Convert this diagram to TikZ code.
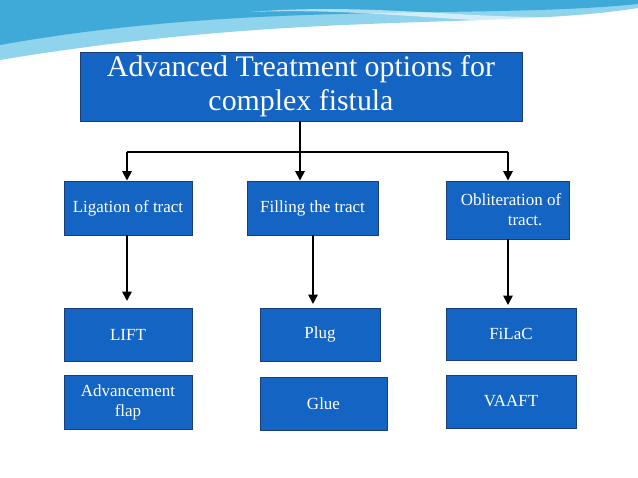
\documentclass[tikz,border=0pt]{standalone}
\usepackage{fontspec}
\setmainfont{Liberation Serif}
\usetikzlibrary{arrows.meta}
\definecolor{bx}{HTML}{1464C4}
\definecolor{bd}{HTML}{1A3E78}
\definecolor{w1}{HTML}{8FD3EC}
\definecolor{w2}{HTML}{3FA9D8}
\begin{document}
\begin{tikzpicture}[x=0.03cm,y=-0.03cm,
 box/.style={draw=bd,line width=0.8pt,fill=bx,text=white,align=center,inner sep=0pt,font=\fontsize{14.5}{17}\selectfont},
 arr/.style={line width=1.5pt,-{Triangle[length=8pt,width=8pt]}}]
\useasboundingbox (0,0) rectangle (638,478);
\fill[white] (0,0) rectangle (638,478);
% top waves
\fill[w1] (0,0) -- (638,0) -- (638,8) .. controls (500,30) and (300,10) .. (0,60) -- cycle;
\fill[w2] (0,0) -- (638,0) -- (638,4) .. controls (480,20) and (250,0) .. (0,45) -- cycle;
\fill[white,opacity=0.6] (250,12) .. controls (400,0) and (520,30) .. (638,10) -- (638,14) .. controls (520,36) and (400,6) .. (250,12);
% nodes
\node[box,minimum width=442*0.03cm,minimum height=69*0.03cm,font=\fontsize{25.5}{29}\selectfont] (top) at (301,86.5) {Advanced Treatment options for\\complex fistula};
\node[box,minimum width=128*0.03cm,minimum height=54*0.03cm] (lig) at (128,208) {Ligation of tract};
\node[box,minimum width=131*0.03cm,minimum height=54*0.03cm] (fil) at (312.5,208) {Filling the tract};
\node[box,minimum width=123*0.03cm,minimum height=58*0.03cm] (obl) at (507.5,210) {\hspace*{6pt}Obliteration of\\\hspace*{30pt}tract.};
\node[box,minimum width=128*0.03cm,minimum height=53*0.03cm] (lift) at (128,334.5) {LIFT};
\node[box,minimum width=120*0.03cm,minimum height=53*0.03cm] (plug) at (320,334.5) {Plug};
\node[box,minimum width=130*0.03cm,minimum height=52*0.03cm] (filac) at (511,334) {FiLaC};
\node[box,minimum width=128*0.03cm,minimum height=54*0.03cm] (adv) at (128,402) {Advancement\\flap};
\node[box,minimum width=127*0.03cm,minimum height=53*0.03cm] (glue) at (323.5,403.5) {Glue};
\node[box,minimum width=130*0.03cm,minimum height=53*0.03cm] (vaaft) at (511,401.5) {VAAFT};
% connectors
\coordinate (j) at (300,152);
\draw[line width=1.8pt] (top.south -| j) -- (j);
\draw[line width=1.8pt] (127,152) -- (508,152);
\draw[arr] (127,152) -- (lig.north -| 127,0);
\draw[arr] (j) -- (fil.north -| j);
\draw[arr] (508,152) -- (obl.north -| 508,0);
\draw[arr] (lig.south -| 127,0) -- (127,301);
\draw[arr] (fil.south -| 313,0) -- (313,304);
\draw[arr] (obl.south -| 508,0) -- (508,305);
\end{tikzpicture}
\end{document}
